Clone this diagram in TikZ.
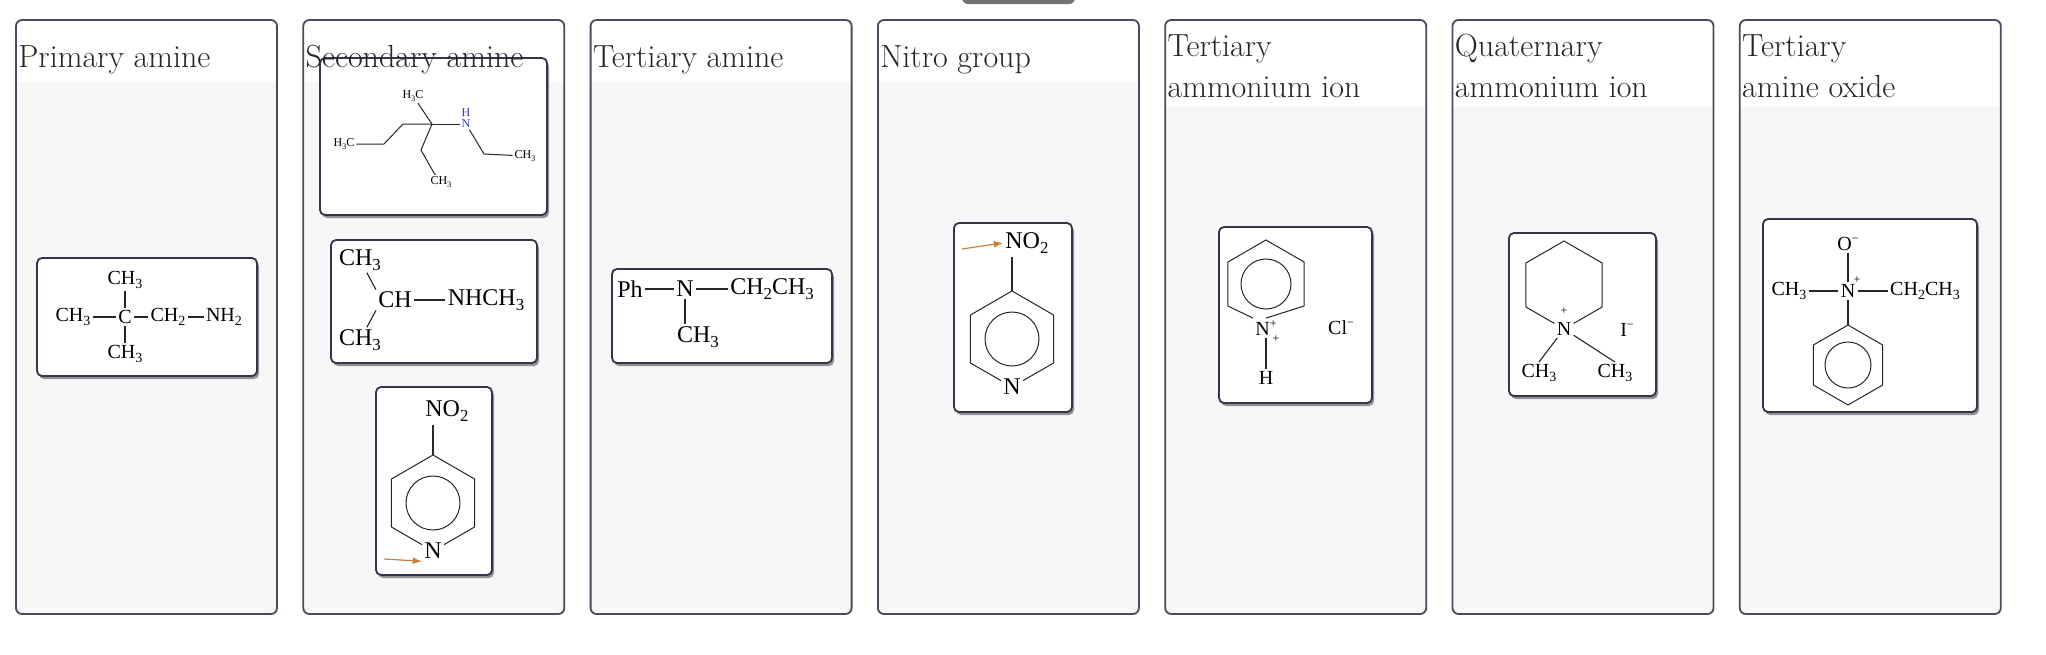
\documentclass[tikz,border=0pt]{standalone}
\usepackage{fontspec}
\newfontfamily\chemf{Liberation Serif}
\usetikzlibrary{shadows,calc}
\definecolor{colb}{HTML}{4A4A5E}
\definecolor{bodyf}{HTML}{F7F7F8}
\definecolor{cardb}{HTML}{34344A}
\definecolor{arr}{HTML}{C8823C}
\definecolor{nblue}{HTML}{3A3AC8}
\newcommand\sbs[1]{\raisebox{-0.4ex}{\scalebox{0.7}{#1}}}
\newcommand\sps[1]{\raisebox{0.9ex}{\scalebox{0.6}{#1}}}
\newcommand\hexat[4]{%
 \coordinate (#1c) at (#2,#3);
 \foreach \k/\a in {1/270,2/330,3/30,4/90,5/150,6/210}{\coordinate (#1\k) at ($(#1c)+(\a:#4)$);}}
\tikzset{
 colbox/.style={draw=colb, line width=0.9pt, rounded corners=3pt},
 card/.style={draw=cardb, line width=0.9pt, fill=white, rounded corners=2.5pt,
   drop shadow={shadow xshift=1pt,shadow yshift=-1.5pt,fill=black!60,opacity=.7}},
 hdr/.style={anchor=base west, font=\fontsize{16}{19}\selectfont, inner sep=0pt, text=black!85},
 ch/.style={font=\chemf\fontsize{10}{11}\selectfont, inner sep=1pt},
 chb/.style={font=\chemf\fontsize{12}{13}\selectfont, inner sep=1pt},
 sm/.style={font=\chemf\fontsize{6}{6}\selectfont, inner sep=0.8pt},
 bond/.style={line width=0.55pt, black!85},
 ring/.style={line width=0.5pt, black!85},
 oarrow/.style={-latex, arr, line width=0.6pt},
}
\begin{document}
\begin{tikzpicture}[x=0.5pt,y=-0.5pt]
\useasboundingbox (0,0) rectangle (2046,654);
\fill[black!55, rounded corners=3pt] (962,-10) rectangle (1075,4);
% columns
\foreach \i/\hb in {0/82,1/82,2/82,3/82,4/107,5/107,6/107}{
  \pgfmathsetmacro\xa{16+287.3*\i}
  \pgfmathsetmacro\xb{\xa+261}
  \begin{scope}
   \clip[rounded corners=3pt] (\xa,20) rectangle (\xb,614);
   \fill[bodyf] (\xa,20) rectangle (\xb,614);
   \fill[white] (\xa,20) rectangle (\xb,\hb);
  \end{scope}
  \draw[colbox] (\xa,20) rectangle (\xb,614);
}

% ---- card 1
\begin{scope}[shift={(37,258)}]
 \path[card] (0,0) rectangle (220,118);
 \node[ch] (a1c) at (88,59) {C};
 \node[ch] (a1l) at (36,59) {CH\sbs3};
 \node[ch] (a1r) at (131,59) {CH\sbs2};
 \node[ch] (a1n) at (187,59) {NH\sbs2};
 \node[ch] (a1t) at (88,22) {CH\sbs3};
 \node[ch] (a1b) at (88,96) {CH\sbs3};
 \draw[bond] (a1l) -- (a1c); \draw[bond] (a1c) -- (a1r); \draw[bond] (a1r) -- (a1n);
 \draw[bond] (a1t.south -| a1c) -- (a1c); \draw[bond] (a1c) -- (a1b.north -| a1c);
\end{scope}

% ---- card 2A
\begin{scope}[shift={(320,58)}]
 \path[card] (0,0) rectangle (227,157);
 \node[sm] (b1) at (24,86) {H\sbs3C};
 \coordinate (q2) at (64,86); \coordinate (q3) at (83,66); \coordinate (qc) at (112,66);
 \node[sm] (b2) at (93,38) {H\sbs3C};
 \node[sm,text=nblue] (bn) at (146,66) {N};
 \node[sm,text=nblue] (bh) at (146,55) {H};
 \coordinate (q5) at (164,96); \coordinate (q6) at (101,92); \coordinate (q7) at (114,115);
 \node[sm] (b3) at (205,98) {CH\sbs3};
 \node[sm] (b4) at (121,124) {CH\sbs3};
 \draw[bond,line width=0.5pt] (b1) -- (q2) -- (q3) -- (qc);
 \draw[bond,line width=0.5pt] (qc) -- (b2);
 \draw[bond,line width=0.5pt] (qc) -- (bn);
 \draw[bond,line width=0.5pt] (bn) -- (q5) -- (b3);
 \draw[bond,line width=0.5pt] (qc) -- (q6) -- (q7) -- (b4);
\end{scope}

% ---- card 2B
\begin{scope}[shift={(331,240)}]
 \path[card] (0,0) rectangle (206,123);
 \node[chb] (c1) at (29,20) {CH\sbs3};
 \node[chb] (c2) at (64,60) {CH};
 \node[chb] (c3) at (155,60) {NHCH\sbs3};
 \node[chb] (c4) at (29,100) {CH\sbs3};
 \draw[bond] (c1) -- (c2.north west); \draw[bond] (c4) -- (c2.south west);
 \draw[bond] (c2) -- (c3);
\end{scope}

% ---- card 2C
\begin{scope}[shift={(376,387)}]
 \path[card] (0,0) rectangle (116,188);
 \node[chb, anchor=west] (d1) at (47,24) {NO\sbs2};
 \coordinate (d0) at (57,38);
 \hexat{dh}{57}{116}{48}
 \node[chb] (dN) at (dh4) {N};
 \draw[ring] (dh5) -- (dh6) -- (dh1) -- (dh2) -- (dh3);
 \draw[ring] (dh3) -- (dN) -- (dh5);
 \draw[ring] (dhc) circle (27);
 \draw[bond] (d0) -- (dh1);
 \coordinate (da) at (8,172);
 \draw[oarrow] (da) -- (dN.south west);
\end{scope}

% ---- card 3
\begin{scope}[shift={(612,269)}]
 \path[card] (0,0) rectangle (220,94);
 \node[chb] (e1) at (18,20) {Ph};
 \node[chb] (e2) at (73,20) {N};
 \node[chb] (e3) at (160,20) {CH\sbs2CH\sbs3};
 \node[chb] (e4) at (86,68) {CH\sbs3};
 \draw[bond] (e1) -- (e2); \draw[bond] (e2) -- (e3);
 \draw[bond] (e2) -- (e2 |- e4.north);
\end{scope}

% ---- card 4
\begin{scope}[shift={(954,223)}]
 \path[card] (0,0) rectangle (118,189);
 \node[chb, anchor=west] (f1) at (49,20) {NO\sbs2};
 \coordinate (f0) at (58,34);
 \hexat{fh}{58}{116}{48}
 \node[chb] (fN) at (fh4) {N};
 \draw[ring] (fh5) -- (fh6) -- (fh1) -- (fh2) -- (fh3);
 \draw[ring] (fh3) -- (fN) -- (fh5);
 \draw[ring] (fhc) circle (27);
 \draw[bond] (f0) -- (fh1);
 \coordinate (fa) at (8,26);
 \draw[oarrow] (fa) -- (f1.west);
\end{scope}

% ---- card 5
\begin{scope}[shift={(1219,227)}]
 \path[card] (0,0) rectangle (153,176);
 \hexat{gh}{47}{57}{44}
 \node[ch] (gN) at (gh4) {N\sps{+}};
 \node[ch,font=\chemf\fontsize{6}{6}\selectfont] (gp) at (57,112) {+};
 \node[ch] (gH) at (47,151) {H};
 \node[ch] (gcl) at (122,101) {Cl\sps{−}};
 \draw[ring] (gh5) -- (gh6) -- (gh1) -- (gh2) -- (gh3);
 \draw[ring] (gh3) -- (gN.north) ; \draw[ring] (gN.north west) -- (gh5);
 \draw[ring] (ghc) circle (25);
 \draw[bond] (gN) -- (gH);
\end{scope}

% ---- card 6
\begin{scope}[shift={(1509,233)}]
 \path[card] (0,0) rectangle (147,163);
 \hexat{kh}{55}{52}{44}
 \node[ch] (kN) at (kh4) {N};
 \node[ch,font=\chemf\fontsize{6}{6}\selectfont] (kp) at (55,78) {+};
 \node[ch] (kl) at (30,140) {CH\sbs3};
 \node[ch] (kr) at (106,140) {CH\sbs3};
 \node[ch] (ki) at (118,97) {I\sps{−}};
 \draw[ring] (kh5) -- (kh6) -- (kh1) -- (kh2) -- (kh3);
 \draw[ring] (kh3) -- (kN); \draw[ring] (kN) -- (kh5);
 \draw[bond] (kN) -- (kl.north); \draw[bond] (kN) -- (kr.north);
\end{scope}

% ---- card 7
\begin{scope}[shift={(1763,219)}]
 \path[card] (0,0) rectangle (214,193);
 \node[ch] (mO) at (85,25) {O\sps{−}};
 \node[ch] (mN) at (85,72) {N};
 \node[ch,font=\chemf\fontsize{6}{6}\selectfont] (mp) at (94,61) {+};
 \node[ch] (ml) at (26,72) {CH\sbs3};
 \node[ch] (mr) at (162,72) {CH\sbs2CH\sbs3};
 \hexat{mh}{85}{146}{40}
 \draw[ring] (mh1) -- (mh2) -- (mh3) -- (mh4) -- (mh5) -- (mh6) -- cycle;
 \draw[ring] (mhc) circle (23);
 \draw[bond] (mO.south -| mN) -- (mN); \draw[bond] (mN) -- (mh1);
 \draw[bond] (ml) -- (mN); \draw[bond] (mN) -- (mr);
\end{scope}

% headers (on top)
\node[hdr] (h1) at (18,67) {Primary amine};
\node[hdr] (h2) at (305.3,67) {Secondary amine};
\node[hdr] (h3) at (592.6,67) {Tertiary amine};
\node[hdr] (h4) at (879.9,67) {Nitro group};
\node[hdr] (h5a) at (1167.2,56) {Tertiary};
\node[hdr] (h5b) at (1167.2,97) {ammonium ion};
\node[hdr] (h6a) at (1454.5,56) {Quaternary};
\node[hdr] (h6b) at (1454.5,97) {ammonium ion};
\node[hdr] (h7a) at (1741.8,56) {Tertiary};
\node[hdr] (h7b) at (1741.8,97) {amine oxide};
\end{tikzpicture}
\end{document}
